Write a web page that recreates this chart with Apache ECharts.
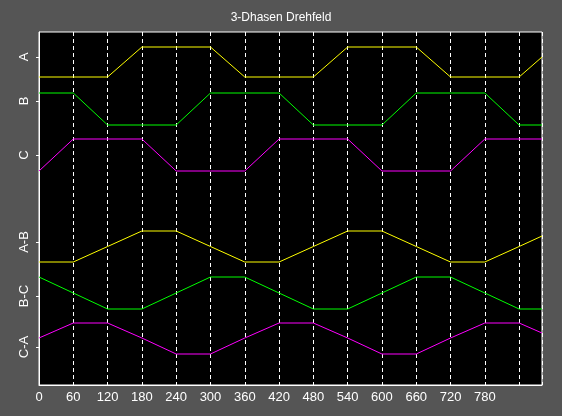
<!DOCTYPE html><html><head><meta charset="utf-8">
<script src="https://cdn.jsdelivr.net/npm/echarts@6/dist/echarts.min.js"></script>
<style>html,body{margin:0;padding:0;background:#555555}#c{width:562px;height:416px}</style></head><body><div id="c"></div>
<script>
const xs=[0,60,120,180,240,300,360,420,480,540,600,660,720,780,840,880];
const A=[77,77,77,47,47,47,77,77,77,47,47,47,77,77,77,57];
const B=[93,93,125,125,125,93,93,93,125,125,125,93,93,93,125,125];
const C=[171,139,139,139,171,171,171,139,139,139,171,171,171,139,139,139];
const AB=[262,262,246.5,231,231,246.5,262,262,246.5,231,231,246.5,262,262,246.5,236];
const BC=[277,293,309,309,293,277,277,293,309,309,293,277,277,293,309,309];
const CA=[338,323,323,338,354,354,338,323,323,338,354,354,338,323,323,333];
const yLabels=['A','B','C','A-B','B-C','C-A'];
const yPos=[57,101,155,242,296,347];
const xTicks=[0,60,120,180,240,300,360,420,480,540,600,660,720,780,840];
const ch=echarts.init(document.getElementById('c'));
const mk=(d,c)=>({type:'line',data:xs.map((x,i)=>[x,d[i]]),symbol:'none',lineStyle:{color:c,width:1},animation:false});
ch.setOption({backgroundColor:'#555555',
title:{text:'3-Dhasen Drehfeld',left:'center',top:7,textStyle:{color:'#fff',fontSize:12,fontWeight:'normal',fontFamily:'Liberation Sans'}},
grid:{left:39,right:20,top:32,bottom:31,show:true,backgroundColor:'#000',borderColor:'#fff',borderWidth:1},
xAxis:{type:'value',min:0,max:880,axisLine:{lineStyle:{color:'#fff'}},axisTick:{show:false},
 axisLabel:{customValues:xTicks,color:'#fff',fontSize:13,fontFamily:'Liberation Sans',margin:6,showMaxLabel:false},
 splitLine:{show:true,lineStyle:{color:'#fff',type:[4,3]}},interval:60},
yAxis:{type:'value',min:32,max:385,inverse:true,axisLine:{show:true,lineStyle:{color:'#fff'}},splitLine:{show:false},
 axisTick:{show:true,customValues:yPos,length:3,lineStyle:{color:'#fff'}},
 axisLabel:{customValues:yPos,color:'#fff',fontSize:13,fontFamily:'Liberation Sans',rotate:90,margin:8,formatter:v=>yLabels[yPos.indexOf(v)]}},
series:[mk(A,'#ffff00'),mk(B,'#00ff00'),mk(C,'#ff00ff'),mk(AB,'#ffff00'),mk(BC,'#00ff00'),mk(CA,'#ff00ff')]});
</script></body></html>
